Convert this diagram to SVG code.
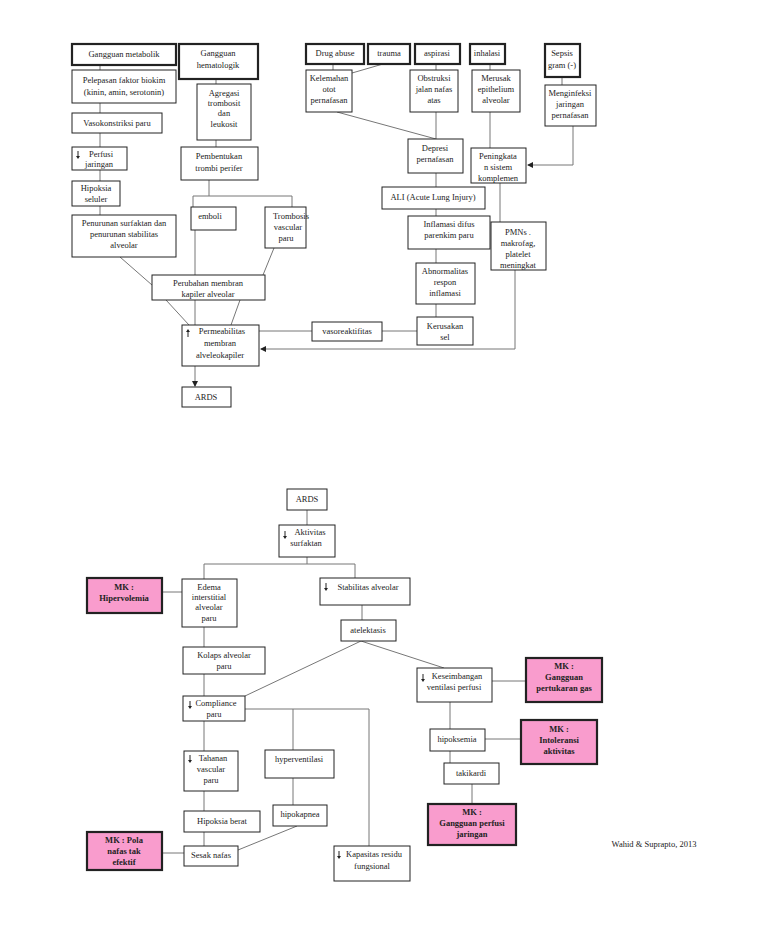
<svg xmlns="http://www.w3.org/2000/svg" width="768" height="932" viewBox="0 0 768 932">
<style>
rect{fill:#fff;stroke:#222;stroke-width:1}
rect.t{stroke-width:2.2}
rect.mk{fill:#f99ccd;stroke:#222;stroke-width:2.2}
text{font-family:"Liberation Serif",serif;font-size:8.5px;fill:#222;text-anchor:middle}
text.b{font-weight:bold}
#c line,#c polyline{stroke:#777;stroke-width:1;fill:none}
.ar{stroke:#222;stroke-width:1;fill:none}
</style>
<defs>
<marker id="m" markerWidth="6" markerHeight="6" refX="5" refY="3" orient="auto"><path d="M0,0L6,3L0,6z" fill="#222"/></marker>
<g id="dn"><line x1="0" y1="-4" x2="0" y2="2" stroke="#222"/><path d="M-2,1L2,1L0,4z" fill="#222"/></g>
<g id="up"><line x1="0" y1="4" x2="0" y2="-2" stroke="#222"/><path d="M-2,-1L2,-1L0,-4z" fill="#222"/></g>
</defs>
<g id="c">
<line x1="100" y1="65" x2="100" y2="70"/><line x1="100" y1="103" x2="100" y2="113"/><line x1="100" y1="133" x2="100" y2="147"/><line x1="100" y1="170" x2="100" y2="181"/><line x1="100" y1="206" x2="100" y2="215"/>
<line x1="216" y1="79" x2="216" y2="84"/><line x1="216" y1="140" x2="216" y2="147"/>
<line x1="209" y1="180" x2="209" y2="196"/><polyline points="193,207 193,196 292,196 292,207"/>
<line x1="195" y1="230" x2="195" y2="325"/>
<line x1="120" y1="257" x2="152" y2="285" stroke="#222"/><line x1="274" y1="248" x2="263" y2="275"/>
<line x1="166" y1="300" x2="189" y2="325"/><line x1="240" y1="300" x2="231" y2="325"/>
<line x1="195" y1="366" x2="195" y2="386" class="ar" marker-end="url(#m)"/>
<line x1="259" y1="331" x2="312" y2="331"/><line x1="382" y1="331" x2="417" y2="331"/>
<polyline points="515,270 515,349 261,349" class="ar" style="stroke:#777" marker-end="url(#m)"/>
<line x1="333" y1="64" x2="333" y2="70"/><line x1="383" y1="64" x2="352" y2="73" stroke="#222"/>
<line x1="436" y1="64" x2="436" y2="70"/><line x1="490" y1="64" x2="490" y2="70"/><line x1="562" y1="77" x2="562" y2="85"/>
<line x1="337" y1="112" x2="436" y2="139" stroke="#222"/><line x1="436" y1="112" x2="436" y2="139"/>
<line x1="490" y1="112" x2="490" y2="148"/>
<polyline points="573,126 573,165 528,165" class="ar" style="stroke:#777" marker-end="url(#m)"/>
<line x1="436" y1="173" x2="436" y2="187"/><line x1="436" y1="209" x2="436" y2="216"/><line x1="436" y1="249" x2="436" y2="263"/><line x1="436" y1="304" x2="436" y2="317"/>
<line x1="500" y1="183" x2="500" y2="222"/>
<line x1="307" y1="510" x2="307" y2="525"/><line x1="307" y1="557" x2="307" y2="564"/>
<polyline points="204,579 204,564 355,564 355,578"/>
<line x1="162" y1="592" x2="182" y2="592"/>
<line x1="362" y1="605" x2="362" y2="620"/>
<line x1="204" y1="627" x2="204" y2="647"/><line x1="204" y1="674" x2="204" y2="696"/>
<line x1="361" y1="641" x2="245" y2="696" stroke="#222"/><line x1="361" y1="641" x2="444" y2="668" stroke="#222"/>
<line x1="492" y1="681" x2="526" y2="681"/>
<line x1="450" y1="702" x2="450" y2="729"/><line x1="485" y1="739" x2="521" y2="739"/>
<line x1="450" y1="751" x2="450" y2="763"/><line x1="472" y1="784" x2="472" y2="804"/>
<polyline points="245,709 369,709 369,846"/><line x1="293" y1="709" x2="293" y2="750"/>
<line x1="204" y1="721" x2="204" y2="751"/><line x1="204" y1="791" x2="204" y2="811"/><line x1="204" y1="832" x2="204" y2="846"/>
<line x1="293" y1="778" x2="293" y2="805"/>
<line x1="297" y1="826" x2="238" y2="850"/>
<line x1="162" y1="853" x2="184" y2="853"/>
</g>
<g id="n1"><rect class="t" x="72" y="44" width="104" height="21"/><text x="124" y="57">Gangguan metabolik</text></g>
<g id="n2"><rect x="72" y="70" width="104" height="33"/><text x="124" y="83">Pelepasan faktor biokim</text><text x="124" y="95">(kinin, amin, serotonin)</text></g>
<g id="n3"><rect x="72" y="113" width="90" height="20"/><text x="117" y="126">Vasokonstriksi paru</text></g>
<g id="n4"><rect x="72" y="147" width="55" height="23"/><use href="#dn" x="78" y="155"/><text x="101" y="157">Perfusi</text><text x="99" y="167">jaringan</text></g>
<g id="n5"><rect x="72" y="181" width="48" height="25"/><text x="96" y="191">Hipoksia</text><text x="96" y="202">seluler</text></g>
<g id="n6"><rect x="72" y="215" width="104" height="42"/><text x="124" y="226">Penurunan surfaktan dan</text><text x="124" y="237">penurunan stabilitas</text><text x="124" y="248">alveolar</text></g>
<g id="n7"><rect class="t" x="179" y="44" width="79" height="35"/><text x="218" y="56">Gangguan</text><text x="218" y="68">hematologik</text></g>
<g id="n8"><rect x="197" y="84" width="54" height="56"/><text x="224" y="96">Agregasi</text><text x="224" y="106">trombosit</text><text x="224" y="116">dan</text><text x="224" y="127">leukosit</text></g>
<g id="n9"><rect x="181" y="147" width="77" height="33"/><text x="219" y="159">Pembentukan</text><text x="219" y="171">trombi perifer</text></g>
<g id="n10"><rect x="191" y="207" width="45" height="23"/><text x="210" y="219">emboli</text></g>
<g id="n11"><rect x="265" y="207" width="41" height="41"/><text x="291" y="219">Trombosis</text><text x="288" y="230">vascular</text><text x="286" y="241">paru</text></g>
<g id="n12"><rect x="152" y="275" width="113" height="25"/><text x="208" y="286">Perubahan membran</text><text x="208" y="297">kapiler alveolar</text></g>
<g id="n13"><rect x="182" y="325" width="77" height="41"/><use href="#up" x="188" y="333"/><text x="222" y="334">Permeabilitas</text><text x="220" y="346">membran</text><text x="220" y="358">alveleokapiler</text></g>
<g id="n14"><rect x="182" y="387" width="49" height="20"/><text x="206" y="400">ARDS</text></g>
<g id="n15"><rect class="t" x="306" y="44" width="58" height="20"/><text x="335" y="56">Drug abuse</text></g>
<g id="n16"><rect class="t" x="368" y="44" width="42" height="20"/><text x="389" y="56">trauma</text></g>
<g id="n17"><rect class="t" x="415" y="44" width="45" height="20"/><text x="437" y="56">aspirasi</text></g>
<g id="n18"><rect class="t" x="470" y="44" width="35" height="20"/><text x="487" y="56">inhalasi</text></g>
<g id="n19"><rect class="t" x="545" y="44" width="35" height="33"/><text x="562" y="56">Sepsis</text><text x="562" y="68">gram (-)</text></g>
<g id="n20"><rect x="306" y="70" width="46" height="42"/><text x="329" y="81">Kelemahan</text><text x="329" y="92">otot</text><text x="329" y="103">pernafasan</text></g>
<g id="n21"><rect x="410" y="70" width="48" height="42"/><text x="434" y="81">Obstruksi</text><text x="434" y="92">jalan nafas</text><text x="434" y="103">atas</text></g>
<g id="n22"><rect x="472" y="70" width="48" height="42"/><text x="496" y="81">Merusak</text><text x="496" y="92">epithelium</text><text x="496" y="103">alveolar</text></g>
<g id="n23"><rect x="545" y="85" width="51" height="41"/><text x="570" y="96">Menginfeksi</text><text x="570" y="107">jaringan</text><text x="570" y="118">pernafasan</text></g>
<g id="n24"><rect x="408" y="139" width="55" height="34"/><text x="435" y="151">Depresi</text><text x="435" y="162">pernafasan</text></g>
<g id="n25"><rect x="471" y="148" width="55" height="35"/><text x="498" y="159">Peningkata</text><text x="498" y="170">n sistem</text><text x="498" y="181">komplemen</text></g>
<g id="n26"><rect x="382" y="187" width="103" height="22"/><text x="433" y="200">ALI (Acute Lung Injury)</text></g>
<g id="n27"><rect x="408" y="216" width="82" height="33"/><text x="449" y="227">Inflamasi difus</text><text x="449" y="238">parenkim paru</text></g>
<g id="n28"><rect x="491" y="222" width="55" height="48"/><text x="518" y="235">PMNs .</text><text x="518" y="246">makrofag,</text><text x="518" y="257">platelet</text><text x="518" y="268">meningkat</text></g>
<g id="n29"><rect x="416" y="263" width="59" height="41"/><text x="445" y="274">Abnormalitas</text><text x="445" y="285">respon</text><text x="445" y="296">inflamasi</text></g>
<g id="n30"><rect x="417" y="317" width="56" height="28"/><text x="445" y="329">Kerusakan</text><text x="445" y="340">sel</text></g>
<g id="n31"><rect x="312" y="322" width="70" height="19"/><text x="347" y="334">vasoreaktifitas</text></g>
<g id="b1"><rect x="287" y="489" width="40" height="21"/><text x="307" y="502">ARDS</text></g>
<g id="b2"><rect x="279" y="525" width="56" height="32"/><use href="#dn" x="285" y="535"/><text x="310" y="535">Aktivitas</text><text x="306" y="546">surfaktan</text></g>
<g id="b3"><rect x="182" y="579" width="55" height="48"/><text x="209" y="590">Edema</text><text x="209" y="600">interstitial</text><text x="209" y="610">alveolar</text><text x="209" y="621">paru</text></g>
<g id="b4"><rect class="mk" x="87" y="578" width="75" height="35"/><text class="b" x="124" y="590">MK :</text><text class="b" x="124" y="601">Hipervolemia</text></g>
<g id="b5"><rect x="320" y="578" width="90" height="27"/><use href="#dn" x="326" y="587"/><text x="368" y="590">Stabilitas alveolar</text></g>
<g id="b6"><rect x="341" y="620" width="55" height="21"/><text x="368" y="633">atelektasis</text></g>
<g id="b7"><rect x="183" y="647" width="82" height="27"/><text x="224" y="658">Kolaps alveolar</text><text x="224" y="669">paru</text></g>
<g id="b8"><rect x="183" y="696" width="62" height="25"/><use href="#dn" x="190" y="705"/><text x="216" y="706">Compliance</text><text x="214" y="717">paru</text></g>
<g id="b9"><rect x="417" y="668" width="75" height="34"/><use href="#dn" x="423" y="678"/><text x="457" y="679">Keseimbangan</text><text x="454" y="690">ventilasi perfusi</text></g>
<g id="b10"><rect class="mk" x="526" y="658" width="76" height="44"/><text class="b" x="564" y="669">MK :</text><text class="b" x="564" y="680">Gangguan</text><text class="b" x="564" y="691">pertukaran gas</text></g>
<g id="b11"><rect x="430" y="729" width="55" height="22"/><text x="457" y="742">hipoksemia</text></g>
<g id="b12"><rect class="mk" x="521" y="720" width="76" height="44"/><text class="b" x="559" y="732">MK :</text><text class="b" x="559" y="743">Intoleransi</text><text class="b" x="559" y="754">aktivitas</text></g>
<g id="b13"><rect x="444" y="763" width="55" height="21"/><text x="471" y="776">takikardi</text></g>
<g id="b14"><rect class="mk" x="428" y="804" width="88" height="41"/><text class="b" x="472" y="815">MK :</text><text class="b" x="472" y="826">Gangguan perfusi</text><text class="b" x="472" y="837">jaringan</text></g>
<g id="b15"><rect x="184" y="751" width="54" height="40"/><use href="#dn" x="190" y="759"/><text x="213" y="761">Tahanan</text><text x="211" y="772">vascular</text><text x="211" y="783">paru</text></g>
<g id="b16"><rect x="265" y="750" width="69" height="28"/><text x="299" y="762">hyperventilasi</text></g>
<g id="b17"><rect x="184" y="811" width="76" height="21"/><text x="222" y="824">Hipoksia berat</text></g>
<g id="b18"><rect x="273" y="805" width="54" height="21"/><text x="300" y="817">hipokapnea</text></g>
<g id="b19"><rect x="184" y="846" width="54" height="20"/><text x="211" y="858">Sesak nafas</text></g>
<g id="b20"><rect class="mk" x="87" y="832" width="75" height="38"/><text class="b" x="124" y="843">MK : Pola</text><text class="b" x="124" y="854">nafas tak</text><text class="b" x="124" y="865">efektif</text></g>
<g id="b21"><rect x="334" y="846" width="76" height="35"/><use href="#dn" x="339" y="855"/><text x="374" y="857">Kapasitas residu</text><text x="372" y="869">fungsional</text></g>
<text x="654" y="847">Wahid &amp; Suprapto, 2013</text>
</svg>
